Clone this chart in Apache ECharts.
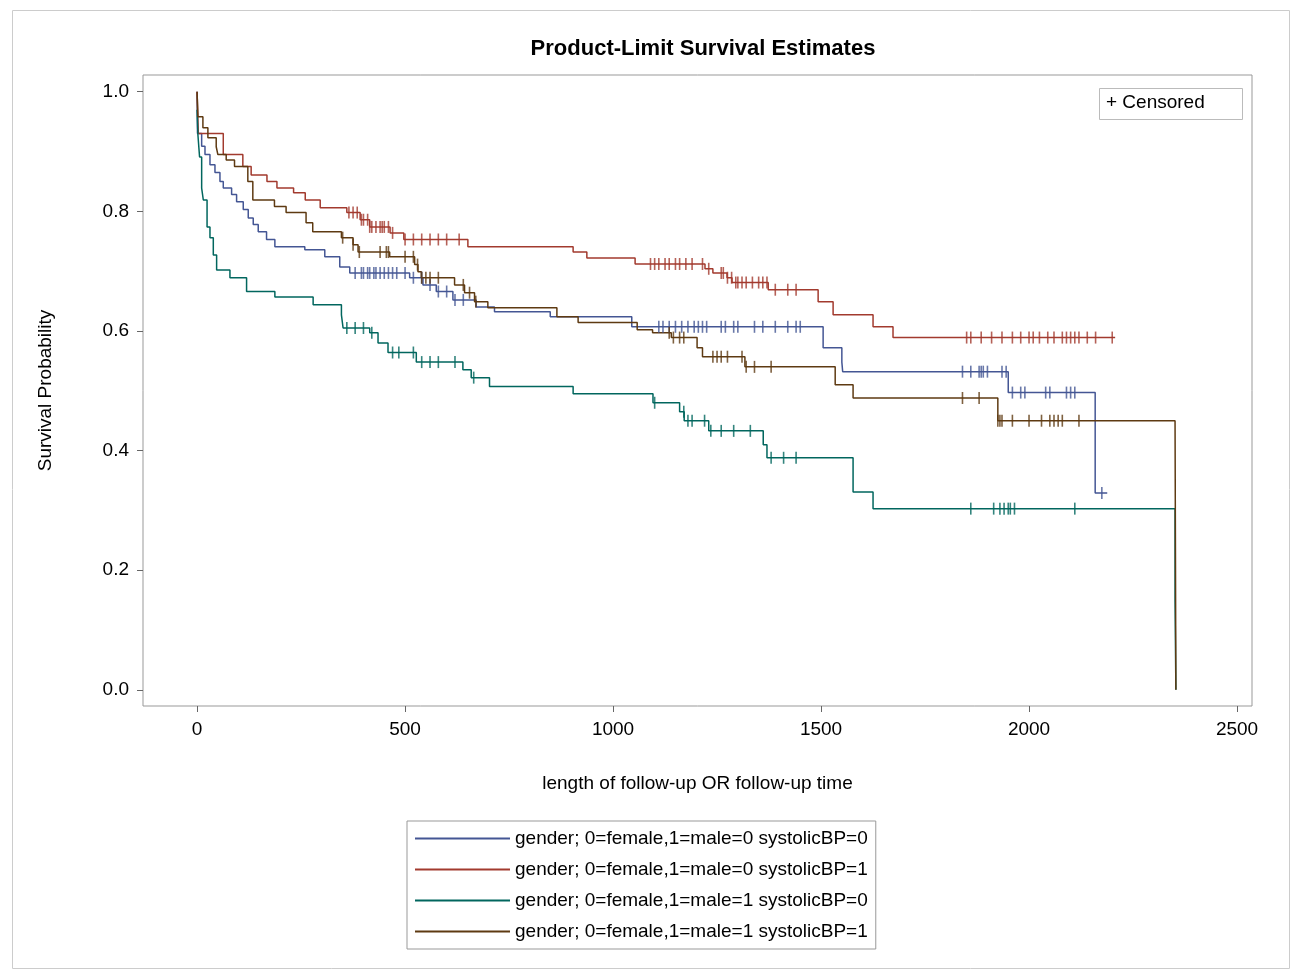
<!DOCTYPE html>
<html><head><meta charset="utf-8">
<script src="https://cdn.jsdelivr.net/npm/echarts@6/dist/echarts.min.js"></script>
<style>html,body{margin:0;padding:0;background:#fff}#c{width:1298px;height:972px}</style>
</head><body><div id="c"></div>
<script>
const seriesNames = ["gender; 0=female,1=male=0 systolicBP=0","gender; 0=female,1=male=0 systolicBP=1","gender; 0=female,1=male=1 systolicBP=0","gender; 0=female,1=male=1 systolicBP=1"];
const colors = ["#445694","#A23A2E","#01665E","#5E3A12"];
const xTicks = [0,500,1000,1500,2000,2500];
const yTicks = [0,0.2,0.4,0.6,0.8,1.0];

const blueSteps = [[0,1],[1,0.93],[11,0.909],[19,0.895],[31,0.878],[43,0.865],[55,0.85],[63,0.839],[83,0.828],[95,0.816],[111,0.803],[123,0.789],[135,0.778],[147,0.766],[167,0.753],[187,0.741],[259,0.736],[307,0.724],[343,0.707],[367,0.697],[511,0.689],[543,0.677],[575,0.666],[615,0.652],[671,0.64],[715,0.632],[849,0.624],[1045,0.607],[1505,0.572],[1550,0.548],[1552,0.532],[1950,0.497],[2159,0.329],[2188,0.329]];
const redSteps = [[0,1],[3,0.93],[63,0.895],[110,0.875],[130,0.861],[168,0.85],[192,0.839],[232,0.831],[260,0.819],[296,0.806],[360,0.798],[392,0.786],[415,0.774],[464,0.764],[497,0.753],[651,0.741],[904,0.732],[937,0.722],[1053,0.712],[1221,0.704],[1240,0.697],[1274,0.689],[1286,0.681],[1373,0.669],[1493,0.649],[1529,0.627],[1625,0.607],[1673,0.589],[2207,0.589]];
const greenSteps = [[0,0.97],[2,0.928],[6,0.891],[11,0.839],[15,0.819],[24,0.774],[31,0.756],[39,0.727],[47,0.702],[79,0.689],[119,0.666],[187,0.657],[279,0.644],[347,0.627],[351,0.605],[415,0.597],[435,0.58],[459,0.564],[527,0.548],[639,0.535],[659,0.522],[703,0.507],[904,0.495],[1096,0.48],[1160,0.465],[1171,0.45],[1230,0.433],[1361,0.41],[1370,0.388],[1577,0.331],[1625,0.303],[2351,0.15],[2353,0]];
const brownSteps = [[0,1],[2,0.958],[14,0.94],[26,0.923],[46,0.908],[50,0.895],[70,0.886],[90,0.875],[122,0.85],[134,0.819],[186,0.808],[214,0.798],[262,0.781],[278,0.766],[347,0.756],[375,0.744],[387,0.732],[463,0.724],[523,0.711],[531,0.699],[539,0.689],[619,0.677],[643,0.664],[667,0.649],[699,0.639],[865,0.624],[916,0.614],[1058,0.602],[1095,0.597],[1140,0.589],[1202,0.572],[1215,0.557],[1317,0.54],[1534,0.51],[1577,0.488],[1925,0.45],[2351,0.45],[2353,0]];

const blueCens = [380,395,400,410,415,425,430,440,450,460,470,480,500,520,540,560,580,600,620,640,1110,1120,1135,1150,1165,1180,1195,1205,1215,1225,1260,1270,1290,1300,1340,1360,1390,1420,1440,1450,1840,1860,1880,1885,1890,1900,1935,1945,1960,1980,1990,2040,2050,2090,2100,2110,2175];
const redCens = [365,375,385,395,400,410,415,420,430,440,445,450,460,470,500,520,540,560,580,600,630,1090,1100,1110,1125,1135,1150,1160,1175,1190,1215,1230,1260,1265,1275,1285,1295,1300,1310,1320,1335,1350,1360,1370,1390,1420,1440,1850,1860,1885,1910,1935,1960,1980,2000,2010,2025,2045,2060,2080,2090,2100,2110,2120,2140,2160,2200];
const greenCens = [360,380,400,420,470,485,520,540,560,580,620,665,1100,1170,1180,1190,1220,1235,1260,1290,1330,1380,1410,1440,1860,1915,1930,1940,1950,1955,1965,2110];
const brownCens = [350,375,390,440,455,460,500,520,530,540,550,560,580,640,655,670,1135,1145,1160,1170,1240,1250,1260,1275,1310,1320,1340,1380,1840,1880,1925,1930,1935,1960,2000,2030,2050,2060,2070,2080,2120];

const allSteps=[blueSteps,redSteps,greenSteps,brownSteps];
const allCens=[blueCens,redCens,greenCens,brownCens];
function valAt(steps,t){let v=steps[0][1];for(const p of steps){if(p[0]<=t)v=p[1];else break;}return v;}

const series=[];
allSteps.forEach((s,i)=>{
  series.push({name:seriesNames[i],type:'line',step:'end',data:s,symbol:'none',lineStyle:{color:colors[i],width:1.5},itemStyle:{color:colors[i]},z:2});
});
allCens.forEach((c,i)=>{
  series.push({type:'scatter',data:c.map(t=>[t,valAt(allSteps[i],t)]),symbol:'rect',symbolSize:[1.6,12],itemStyle:{color:colors[i]},z:3,silent:true});
});

const chart=echarts.init(document.getElementById('c'));
const font="'Liberation Sans', Arial, sans-serif";
chart.setOption({
  animation:false,
  textStyle:{fontFamily:font},
  title:{text:'Product-Limit Survival Estimates',left:698,top:33,textAlign:'center',textStyle:{fontSize:22,fontWeight:'bold',color:'#000',fontFamily:font}},
  grid:{left:143,top:75,width:1109,height:631,show:true,borderColor:'#999',borderWidth:1},
  xAxis:{type:'value',min:-130,max:2536,name:'length of follow-up OR follow-up time',nameLocation:'middle',nameGap:68,
    nameTextStyle:{fontSize:19,color:'#000'},axisLine:{show:false,onZero:false},splitLine:{show:false},
    axisTick:{show:true,customValues:xTicks,length:6,lineStyle:{color:'#666'}},
    axisLabel:{customValues:xTicks,fontSize:19,color:'#000',margin:14,formatter:v=>String(v)}},
  yAxis:{type:'value',min:-0.027,max:1.028,name:'Survival Probability',nameLocation:'middle',nameGap:88,
    nameTextStyle:{fontSize:19,color:'#000'},axisLine:{show:false,onZero:false},splitLine:{show:false},
    axisTick:{show:true,customValues:yTicks,length:6,lineStyle:{color:'#666'}},
    axisLabel:{customValues:yTicks,fontSize:19,color:'#000',margin:14,formatter:v=>v.toFixed(1)}},
  legend:{data:seriesNames,orient:'vertical',left:407,top:821,itemWidth:95,itemHeight:2,itemGap:12,
    icon:'rect',padding:[8,8,8,8],borderColor:'#999',borderWidth:1,textStyle:{fontSize:19,color:'#000'}},
  graphic:[
    {type:'rect',left:1099,top:88,shape:{width:143,height:31},style:{fill:'#fff',stroke:'#bbb',lineWidth:1}},
    {type:'text',left:1106,top:93,style:{text:'+ Censored',fontSize:19,fill:'#000',fontFamily:font}},
    {type:'rect',left:10,top:8,shape:{width:1277,height:958},style:{fill:'none',stroke:'#ccc',lineWidth:1},silent:true}
  ],
  series:series
});
</script></body></html>
